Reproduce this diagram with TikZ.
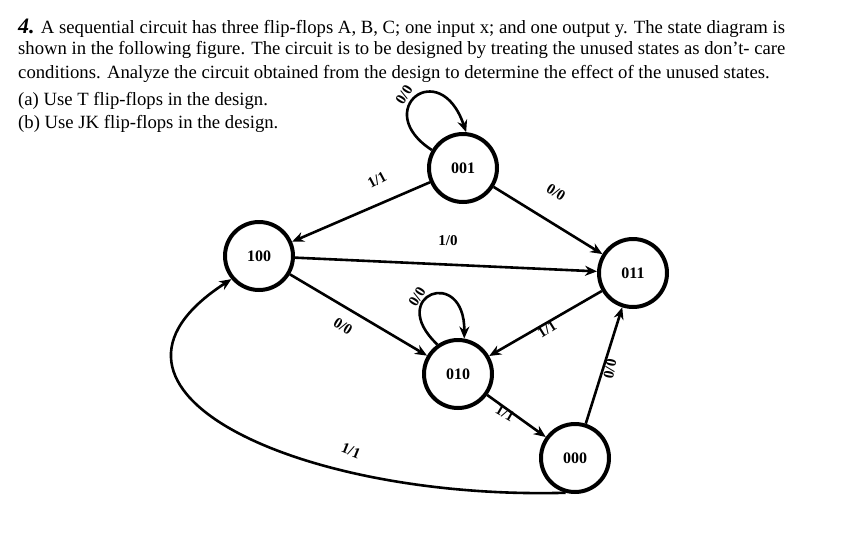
\documentclass[tikz,border=0pt]{standalone}
\usepackage{fontspec}
\setmainfont{Liberation Serif}
\usetikzlibrary{arrows.meta}
\begin{document}
\begin{tikzpicture}[x=1pt,y=-1pt,
  st/.style={circle,draw,line width=4pt,minimum size=68pt,inner sep=0pt,font=\fontsize{16}{16}\selectfont\bfseries},
  ed/.style={line width=2.6pt,-{Stealth[length=12pt,width=10pt]}},
  lb/.style={font=\fontsize{15}{15}\selectfont\bfseries,inner sep=0pt},
  tx/.style={anchor=base west,inner sep=0pt,font=\fontsize{18.7}{18.7}\selectfont}]
\useasboundingbox (0,0) rectangle (865,547);
\node[tx] (t1) at (18,33) {{\fontsize{22}{22}\selectfont\bfseries\itshape 4.} A sequential circuit has three flip-flops A, B, C; one input x; and one output y. The state diagram is};
\node[tx] (t2) at (18,54) {shown in the following figure. The circuit is to be designed by treating the unused states as don’t- care};
\node[tx] (t3) at (18,78) {conditions. Analyze the circuit obtained from the design to determine the effect of the unused states.};
\node[tx] (t4) at (18,105) {(a) Use T flip-flops in the design.};
\node[tx] (t5) at (18,128) {(b) Use JK flip-flops in the design.};
\node[st] (s001) at (463,168) {001};
\node[st] (s100) at (259,256) {100};
\node[st] (s011) at (633,273) {011};
\node[st] (s010) at (458,374) {010};
\node[st] (s000) at (575,458) {000};
\draw[ed] (s001.150) .. controls (370,110) and (440,55) .. (s001.85);
\draw[ed] (s010.125) .. controls (385,295) and (465,265) .. (s010.80);
\draw[ed] (s001) -- (s100);
\draw[ed] (s001) -- (s011);
\draw[ed] (s100) -- (s011);
\draw[ed] (s100) -- (s010);
\draw[ed] (s011) -- (s010);
\draw[ed] (s010) -- (s000);
\draw[ed] (s000) -- (s011);
\draw[ed] (s000.255) .. controls (300,500) and (60,390) .. (s100.220);
\node[lb,rotate=28] (l1) at (377,180) {1/1};
\node[lb,rotate=-32] (l2) at (556,192) {0/0};
\node[lb] (l3) at (448,241) {1/0};
\node[lb,rotate=-32] (l4) at (343,326) {0/0};
\node[lb,rotate=58] (l5) at (417,297) {0/0};
\node[lb,rotate=58] (l6) at (404,95) {0/0};
\node[lb,rotate=32] (l7) at (547,329) {1/1};
\node[lb,rotate=78] (l8) at (610,369) {0/0};
\node[lb,rotate=-30] (l9) at (505,413) {1/1};
\node[lb,rotate=-22] (l10) at (351,451) {1/1};
\end{tikzpicture}
\end{document}
